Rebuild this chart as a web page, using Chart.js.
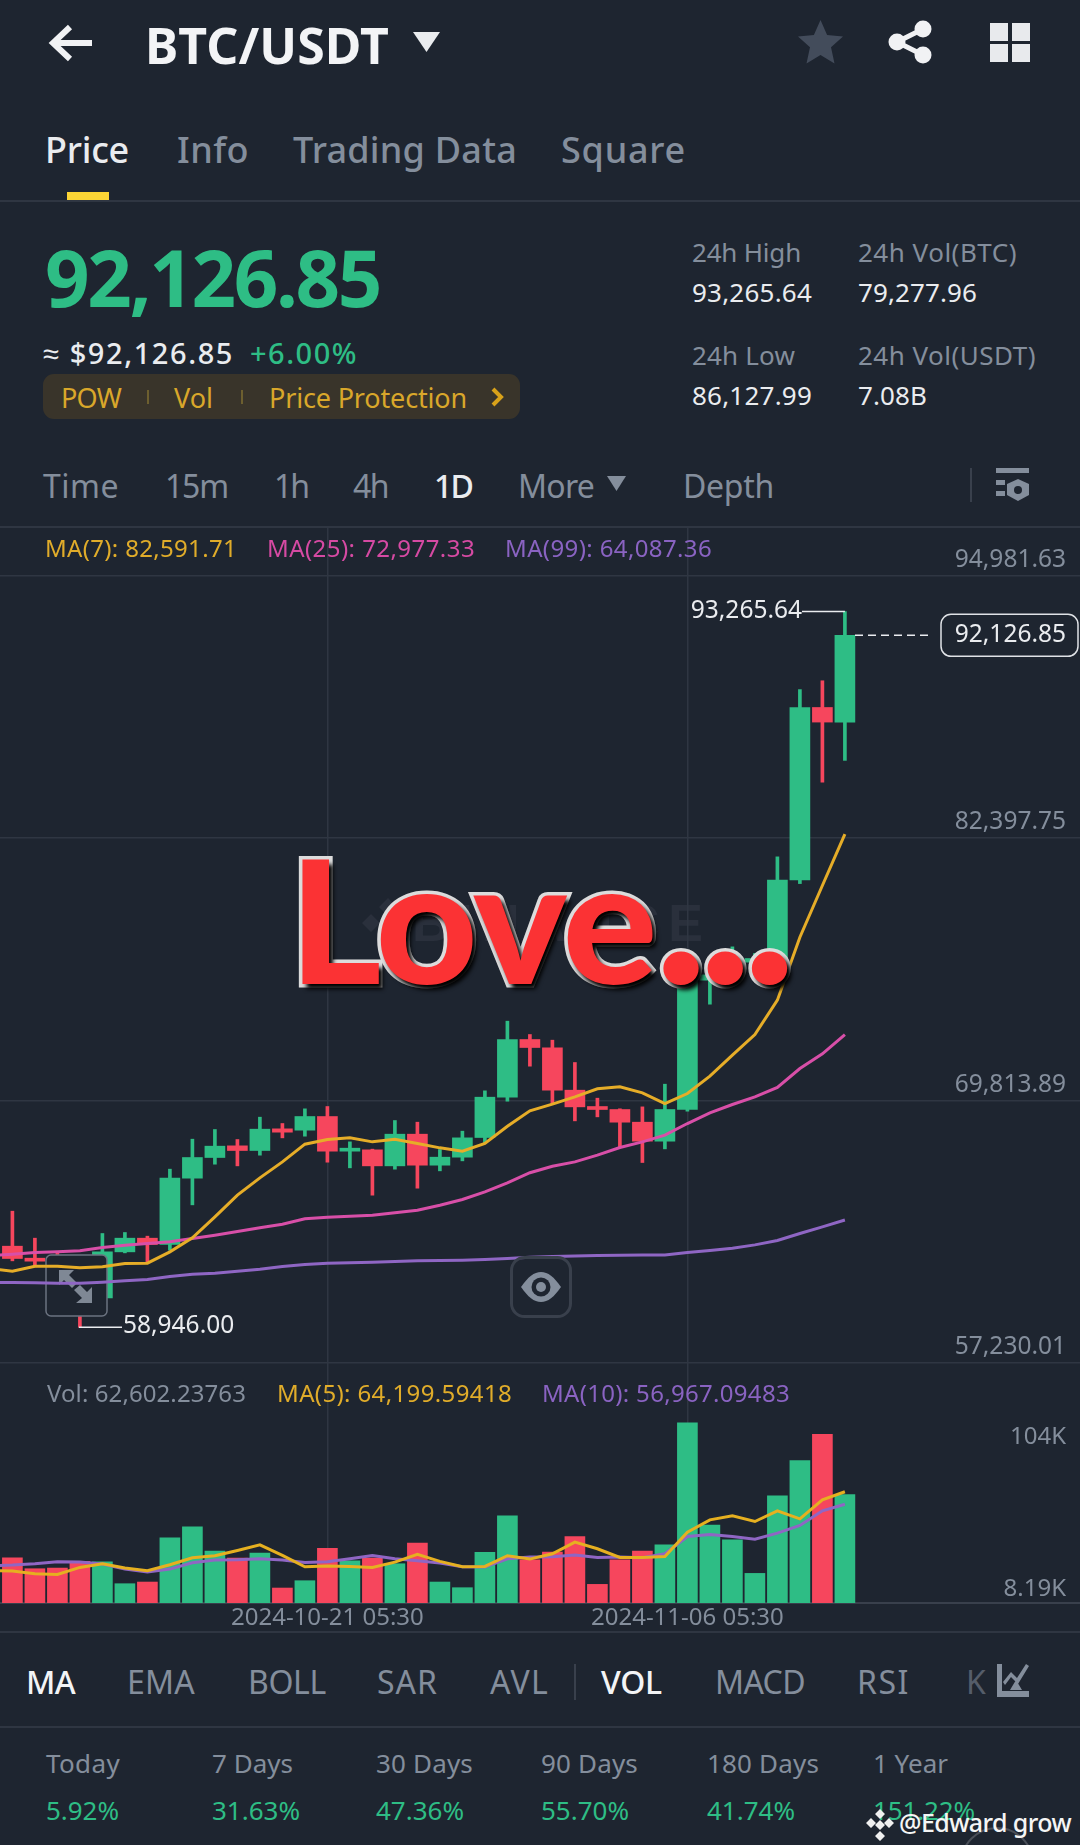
<!DOCTYPE html>
<html><head><meta charset="utf-8">
<script src="https://cdn.jsdelivr.net/npm/chart.js@4"></script>
<style>
html,body{margin:0;padding:0;background:#1e2530;}
#page{position:relative;width:1080px;height:1845px;overflow:hidden;background:#1e2530;font-family:"Noto Sans",sans-serif;}
canvas{position:absolute;left:0;z-index:2;}
.t{position:absolute;white-space:nowrap;line-height:1;transform:translateY(-50%);z-index:5;}
.ln{position:absolute;left:0;width:1080px;height:2px;background:#2f3642;z-index:1;}
svg{position:absolute;z-index:5;}
#love{position:absolute;left:289px;top:798px;font:900 172px "Lato",sans-serif;line-height:1;letter-spacing:-2px;color:#fb3234;-webkit-text-stroke:7px #dcdcdc;paint-order:stroke fill;text-shadow:4px 5px 4px #000;transform:scaleX(1.03);transform-origin:left center;white-space:nowrap;z-index:8;}
#love span{font-size:210px;letter-spacing:-7px;}
#wm{position:absolute;left:412px;top:897px;font:bold 52px "Liberation Sans",sans-serif;line-height:1;letter-spacing:9px;color:#2a303c;z-index:1;}
</style></head><body><div id="page">
<canvas id="pc" width="1080" height="837" style="top:528px"></canvas>
<canvas id="vc" width="1080" height="272" style="top:1362px"></canvas>
<div id="wm">BINANCE</div>
<svg style="left:362px;top:898px;z-index:1" width="52" height="50" viewBox="0 0 52 50" fill="#2a303c"><path d="M26 0l9 9-9 9-9-9zM9 16l9 9-9 9-9-9zM43 16l9 9-9 9-9-9zM26 32l9 9-9 9-9-9zM26 18l7 7-7 7-7-7z"/></svg>
<div id="love">Love<span>...</span></div>
<div class="ln" style="top:200px"></div><div class="ln" style="top:526px"></div><div class="ln" style="top:1631px"></div><div class="ln" style="top:1726px"></div>

<svg style="left:48px;top:22px" width="46" height="42" viewBox="0 0 46 42"><path d="M22 5L5 21l17 16M6 21h38" fill="none" stroke="#f1f2f4" stroke-width="6"/></svg>
<svg style="left:413px;top:32px" width="27" height="20" viewBox="0 0 27 20"><path d="M0 0h27L13.500 20z" fill="#eaecef"/></svg>
<svg style="left:798px;top:20px" width="45" height="44" viewBox="0 0 45 44"><path d="M22.500 0l6.600 15 15.900 1.600-12 10.700 3.500 16.200-14-8.400-14 8.400 3.500-16.200-12-10.700 15.900-1.600z" fill="#434c5b"/></svg>
<svg style="left:888px;top:20px" width="46" height="44" viewBox="0 0 46 44"><circle cx="9" cy="22" r="8.500" fill="#f1f2f4"/><circle cx="35" cy="9" r="8.500" fill="#f1f2f4"/><circle cx="35" cy="35" r="8.500" fill="#f1f2f4"/><path d="M9 22L35 9M9 22l26 13" stroke="#f1f2f4" stroke-width="5"/></svg>
<svg style="left:990px;top:23px" width="40" height="39" viewBox="0 0 40 39" fill="#e8eaed"><rect width="18" height="18"/><rect x="22" width="18" height="18"/><rect y="21" width="18" height="18"/><rect x="22" y="21" width="18" height="18"/></svg>
<div style="position:absolute;left:67px;top:192px;width:42px;height:8px;background:#fcd535;z-index:5"></div>
<div style="position:absolute;left:43px;top:374px;width:477px;height:45px;border-radius:11px;background:#39342a;z-index:4"></div>
<svg style="left:490px;top:387px" width="14" height="20" viewBox="0 0 14 20"><path d="M3 2l8 8-8 8" fill="none" stroke="#d9a21a" stroke-width="4"/></svg>
<div style="position:absolute;left:147px;top:390px;width:2px;height:14px;background:#6d5f2f;z-index:5"></div>
<div style="position:absolute;left:241px;top:390px;width:2px;height:14px;background:#6d5f2f;z-index:5"></div>
<svg style="left:607px;top:476px" width="19" height="15" viewBox="0 0 19 15"><path d="M0 0h19L9.500 15z" fill="#848e9c"/></svg>
<div style="position:absolute;left:970px;top:468px;width:2px;height:34px;background:#39404c;z-index:5"></div>
<svg style="left:996px;top:468px" width="34" height="34" viewBox="0 0 34 34" fill="#848e9c"><rect width="33" height="5"/><rect y="12" width="9" height="5"/><rect y="23" width="9" height="5"/><path d="M22 11l11 5v11l-11 6-11-6V16z"/><circle cx="22" cy="22" r="4" fill="#1e2530"/></svg>
<svg style="left:510px;top:1256px;z-index:5" width="62" height="62" viewBox="0 0 62 62"><rect x="1.500" y="1.500" width="59" height="59" rx="13" fill="none" stroke="#39404c" stroke-width="3"/><path d="M11 31C18 21 24 16 31 16s13 5 20 15c-7 10-13 15-20 15S18 41 11 31z" fill="#848e9c"/><circle cx="31" cy="31" r="9.500" fill="#1e2530"/><circle cx="31" cy="31" r="5" fill="#848e9c"/></svg>
<div style="position:absolute;left:574px;top:1664px;width:2px;height:36px;background:#39404c;z-index:5"></div>
<svg style="left:997px;top:1664px" width="32" height="33" viewBox="0 0 32 33" fill="#848e9c"><path d="M0 0h5v27h27v6H0z"/><path d="M6 18L14 8l6 6 9-14 3 2-11 18-7-7-6 8zM13 26l6-10 6 10z"/></svg>
<div style="position:absolute;left:960px;top:1827px;width:70px;height:70px;border-radius:50%;border:2px solid #4a4f58;z-index:4"></div>
<svg style="left:866px;top:1808px;z-index:9" width="28" height="34" viewBox="0 0 28 34" fill="#f0f0f0"><path d="M14 1l5 5-5 5-5-5zM5 10l5 5-5 5-5-5zM23 10l5 5-5 5-5-5zM14 12l5 5-5 5-5-5zM14 23l5 5-5 5-5-5z"/></svg>

<script>
const gridTickLabels = ["2024-10-21 05:30","2024-11-06 05:30"];
const dates = ["10-06","10-07","10-08","10-09","10-10","10-11","10-12","10-13","10-14","10-15","10-16","10-17","10-18","10-19","10-20","10-21","10-22","10-23","10-24","10-25","10-26","10-27","10-28","10-29","10-30","10-31","11-01","11-02","11-03","11-04","11-05","11-06","11-07","11-08","11-09","11-10","11-11","11-12","11-13"];
const opens  = [null,62832,62241,62113,61841,60354,62560,63216,62912,66093,67084,67644,67420,68459,68395,69050,67388,67452,66684,68203,66716,67100,68043,69977,72743,72343,70313,69513,69386,68778,67867,69386,75588,75827,76451,76627,80390,88665,87965];
const closes = [null,62241,62113,61841,60354,62560,63216,62912,66093,67084,67628,67420,68443,68299,69050,67388,67516,66684,68203,66716,67100,68027,69977,72743,72359,70313,69513,69386,68778,67867,69386,75588,75843,76451,76627,80390,88665,87965,92126.85];
const highs  = [null,64510,63216,62512,62001,63440,63488,63312,66525,67963,68427,67947,69018,68715,69418,69530,67835,67484,68858,68778,67468,68347,70281,73622,72983,72711,71640,69929,69420,69513,70600,75668,75987,77186,76867,81502,89523,89946,93265.64];
const lows   = [null,62129,61841,61681,58946,60354,62512,62081,62640,64814,66764,66684,67196,68027,68107,66860,66589,65278,66525,65613,66445,66924,67755,69785,71464,69673,68842,69034,67595,66844,67499,69306,74437,75748,76067,76547,80220,85083,86127.99];
const ma7  = [61761,61633,61873,61873,61793,61841,62001,62017,62560,63232,64239,65278,66109,66876,67723,67947,68027,67835,67963,67755,67547,67387,67755,68586,69322,69641,69993,70377,70473,70185,69673,70153,70984,71991,72982,74629,77650,80129,82591.71];
const ma25 = [62369,62448,62528,62560,62608,62768,62880,62960,63040,63200,63360,63535,63711,63887,64143,64223,64271,64319,64431,64559,64798,65070,65438,65869,66356,66668,66874,67196,67563,67835,68155,68714,69226,69625,69993,70441,71352,72054,72977.33];
const ma99 = [61090,61090,61074,61058,61058,61106,61170,61234,61377,61489,61537,61633,61729,61857,61953,62017,62033,62065,62097,62129,62145,62161,62193,62240,62305,62338,62367,62386,62400,62410,62415,62530,62626,62736,62894,63105,63441,63757,64087.36];
const volumes = [null,26112,19776,20160,24000,23808,11136,12096,37632,43968,29952,25920,28800,8640,12864,31488,24384,25920,22656,34560,12096,8832,29184,50304,24960,29376,38400,10752,24960,29952,33600,104064,44928,36480,17088,61824,82176,97344,62602.24];
const volUp = [null,0,0,0,0,1,1,0,1,1,1,0,1,0,1,0,1,0,1,0,1,1,1,1,0,0,0,0,0,0,1,1,1,1,1,1,1,0,1];
const volMa5 = [18816,18432,16896,16512,20544,22656,20160,18624,22080,26112,27264,30336,33600,27456,20928,21312,21120,20544,23616,28032,24000,20928,21120,27264,25344,28416,35136,31296,26304,26304,26880,40896,48000,50304,47040,53184,48576,59520,64199.59];
const volMa10 = [21504,21888,22656,23808,23616,22464,19584,17856,19584,23232,24768,24960,25536,24768,23424,23808,25536,27456,25536,24384,23040,20928,20736,25536,26496,26688,27648,26304,26496,26112,28416,38400,39552,38400,36864,40320,44736,53184,56967.09];
const priceTicks = [57230.01,69813.89,82397.75,94981.63];
const volTicks = [8190,104000];
const labels = [
 ["BTC/USDT",145,45,50,"#f3f4f6",700,244],
 ["Price",45,150,36,"#eaecef",500,84],["Info",177,150,36,"#848e9c",500,72],["Trading Data",293,150,36,"#848e9c",500,224],["Square",561,150,36,"#848e9c",500,125],
 ["92,126.85",45,277,78,"#2ebd85",700,335],
 ["≈ $92,126.85",43,352,29,"#eaecef",500,191],["+6.00%",250,352,29,"#2ebd85",500,108],
 ["POW",61,397,27,"#d9a72a",400,60],["Vol",174,397,27,"#d9a72a",400,39],["Price Protection",269,397,27,"#d9a72a",400,198],
 ["24h High",692,252,26,"#848e9c",400,109],["24h Vol(BTC)",858,252,26,"#848e9c",400,159],
 ["93,265.64",692,292,26,"#eaecef",400,120],["79,277.96",858,292,26,"#eaecef",400,119],
 ["24h Low",692,355,26,"#848e9c",400,103],["24h Vol(USDT)",858,355,26,"#848e9c",400,178],
 ["86,127.99",692,395,26,"#eaecef",400,120],["7.08B",858,395,26,"#eaecef",400,69],
 ["Time",43,486,32,"#848e9c",400,76],["15m",165,486,32,"#848e9c",400,63],["1h",274,486,32,"#848e9c",400,34],["4h",353,486,32,"#848e9c",400,35],["1D",434,486,32,"#eaecef",500,38],["More",518,486,32,"#848e9c",400,76],["Depth",683,486,32,"#848e9c",400,91],
 ["MA(7): 82,591.71",45,548,24,"#e0ac2a",400,192],["MA(25): 72,977.33",267,548,24,"#d64aa3",400,208],["MA(99): 64,087.36",505,548,24,"#8a63c2",400,207],
 ["Vol: 62,602.23763",47,1393,24,"#848e9c",400,199],["MA(5): 64,199.59418",277,1393,24,"#e0ac2a",400,235],["MA(10): 56,967.09483",542,1393,24,"#8a63c2",400,248],
 ["MA",26,1682,32,"#f3f4f6",500,49],["EMA",127,1682,32,"#848e9c",400,68],["BOLL",248,1682,32,"#848e9c",400,78],["SAR",377,1682,32,"#848e9c",400,61],["AVL",490,1682,32,"#848e9c",400,59],["VOL",601,1682,32,"#f3f4f6",500,61],["MACD",715,1682,32,"#848e9c",400,90],["RSI",857,1682,32,"#848e9c",400,53],["K",966,1682,32,"#555d6a",400,18],
 ["Today",46,1763,26,"#848e9c",400,74],["7 Days",212,1763,26,"#848e9c",400,81],["30 Days",376,1763,26,"#848e9c",400,97],["90 Days",541,1763,26,"#848e9c",400,97],["180 Days",707,1763,26,"#848e9c",400,112],["1 Year",873,1763,26,"#848e9c",400,75],
 ["5.92%",46,1810,26,"#2ebd85",400,73],["31.63%",212,1810,26,"#2ebd85",400,88],["47.36%",376,1810,26,"#2ebd85",400,88],["55.70%",541,1810,26,"#2ebd85",400,88],["41.74%",707,1810,26,"#2ebd85",400,88],["151.22%",873,1810,26,"#2ebd85",400,102],
 ["@Edward grow",899,1822,25,"#f5f5f5",500,172]
];
const page = document.getElementById('page');
for (const [s,x,y,size,color,weight,w] of labels) {
  const e = document.createElement('div');
  e.className = 't'; e.textContent = s;
  e.style.cssText = `left:${x}px;top:${y}px;font-size:${size}px;color:${color};font-weight:${weight};`;
  page.appendChild(e);
  const m = e.getBoundingClientRect().width;
  e.style.letterSpacing = ((w - m) / s.length).toFixed(2) + 'px';
  if (s === "@Edward grow") e.style.zIndex = 9;
}

const UP = '#2ebd85', DOWN = '#f6465d', GRID = '#2f3642', AXIS = '#848e9c';
const idx = dates.map((_, i) => i);
const candleColor = i => closes[i] >= opens[i] ? UP : DOWN;
const xMin = 0.4489, xMax = 48.449;
const noPad = s => { s.paddingLeft = 0; s.paddingRight = 0; s.paddingTop = 0; s.paddingBottom = 0; };
const xBase = () => ({
  type:'linear', min:xMin, max:xMax, offset:false,
  afterBuildTicks(s){ s.ticks = [{value:15},{value:31}]; },
  grid:{color:'#2f3642',lineWidth:1.5,drawTicks:false,offset:false},
  border:{display:false}
});

const chartBox = {
  id:'chartBox',
  beforeDatasetDraw(chart,args){
    if (args.index !== 2) return;
    const c = chart.ctx; c.save();
    c.beginPath(); c.roundRect(46,1255-528,61,61,5);
    c.fillStyle='#1e2530'; c.fill(); c.strokeStyle='#6b7380'; c.lineWidth=1.5; c.stroke();
    c.fillStyle='#7f8895';
    c.beginPath(); c.moveTo(59,1270-528); c.lineTo(74,1270-528); c.lineTo(69,1275-528); c.lineTo(77,1283-528); c.lineTo(72,1288-528); c.lineTo(64,1280-528); c.lineTo(59,1285-528); c.closePath(); c.fill();
    c.beginPath(); c.moveTo(92,1303-528); c.lineTo(76,1303-528); c.lineTo(82,1298-528); c.lineTo(74,1290-528); c.lineTo(80,1285-528); c.lineTo(87,1292-528); c.lineTo(92,1287-528); c.closePath(); c.fill();
    c.restore();
  },
  afterDatasetsDraw(chart){
    const c = chart.ctx, X = chart.scales.x, Y = chart.scales.y;
    const n = dates.length-1;
    const hy = Y.getPixelForValue(highs[n]), hx = X.getPixelForValue(n);
    const ly = Y.getPixelForValue(lows[4]), lx = X.getPixelForValue(4);
    const cy = Y.getPixelForValue(closes[n]);
    c.save();
    c.strokeStyle='#eaecef'; c.lineWidth=1.5;
    c.beginPath(); c.moveTo(802,hy); c.lineTo(hx,hy); c.stroke();
    c.beginPath(); c.moveTo(lx-1,ly); c.lineTo(122,ly); c.stroke();
    c.fillStyle='#eaecef'; c.font='24.500px "Noto Sans"'; c.textBaseline='middle';
    c.textAlign='right'; c.fillText(highs[n].toLocaleString('en-US',{minimumFractionDigits:2}),802,hy-1);
    c.textAlign='left'; c.fillText(lows[4].toLocaleString('en-US',{minimumFractionDigits:2}),123,ly-1);
    c.setLineDash([8,5]);
    c.beginPath(); c.moveTo(855,cy); c.lineTo(930,cy); c.stroke();
    c.setLineDash([]);
    c.beginPath(); c.roundRect(941,cy-21,137,42,10);
    c.fillStyle='#1e2530'; c.fill(); c.strokeStyle='#dfe2e6'; c.stroke();
    c.fillStyle='#eaecef'; c.textAlign='right';
    c.fillText(closes[n].toLocaleString('en-US',{minimumFractionDigits:2}),1066,cy);
    c.restore();
  }
};

Chart.defaults.font.family = '"Noto Sans"';
const priceChart = new Chart(document.getElementById('pc'), {
  type:'bar',
  data:{datasets:[
    {type:'line',label:'MA7',order:1,data:idx.map(i=>({x:i,y:ma7[i]})),borderColor:'#e6ad28',borderWidth:3,pointRadius:0,tension:0},
    {type:'line',label:'MA25',order:2,data:idx.map(i=>({x:i,y:ma25[i]})),borderColor:'#d84fa8',borderWidth:3,pointRadius:0,tension:0},
    {type:'line',label:'MA99',order:3,data:idx.map(i=>({x:i,y:ma99[i]})),borderColor:'#8f66c4',borderWidth:3,pointRadius:0,tension:0},
    {label:'body',order:4,data:idx.map(i=>({x:i,y:opens[i]===null?null:[opens[i],closes[i]]})),backgroundColor:idx.map(candleColor),barThickness:20,grouped:false,minBarLength:3},
    {label:'wick',order:5,data:idx.map(i=>({x:i,y:lows[i]===null?null:[lows[i],highs[i]]})),backgroundColor:idx.map(candleColor),barThickness:3,grouped:false}
  ]},
  options:{responsive:false,animation:false,devicePixelRatio:1,
    layout:{padding:{left:0,right:0,top:0,bottom:2}},
    plugins:{legend:{display:false},tooltip:{enabled:false}},
    scales:{
      x:{...xBase(),ticks:{display:false},afterFit(s){s.height=0;noPad(s);}},
      y:{position:'right',min:57230.01,max:97272,
        afterBuildTicks(s){s.ticks=priceTicks.map(v=>({value:v}));},
        grid:{color:GRID,lineWidth:1.5,drawTicks:false},border:{display:false},
        afterFit(s){s.width=0;noPad(s);},
        ticks:{mirror:true,padding:-14,labelOffset:-16,color:AXIS,font:{size:24.5},
          callback:v=>v.toLocaleString('en-US',{minimumFractionDigits:2,maximumFractionDigits:2})}}
    }},
  plugins:[chartBox]
});
const volChart = new Chart(document.getElementById('vc'), {
  type:'bar',
  data:{datasets:[
    {type:'line',label:'MA5',order:1,data:idx.map(i=>({x:i,y:volMa5[i]})),borderColor:'#e6b020',borderWidth:3,pointRadius:0,tension:0},
    {type:'line',label:'MA10',order:2,data:idx.map(i=>({x:i,y:volMa10[i]})),borderColor:'#8f66c4',borderWidth:3,pointRadius:0,tension:0},
    {label:'vol',order:3,data:idx.map(i=>({x:i,y:volumes[i]})),backgroundColor:idx.map(i=>volUp[i]?UP:DOWN),barThickness:20,grouped:false}
  ]},
  options:{responsive:false,animation:false,devicePixelRatio:1,
    layout:{padding:0},
    plugins:{legend:{display:false},tooltip:{enabled:false}},
    scales:{
      x:{...xBase(),border:{display:true,color:'#39404c',width:2},
        afterFit(s){s.height=31;noPad(s);},
        ticks:{display:true,color:AXIS,font:{size:24},padding:1,maxRotation:0,autoSkip:false,
          callback:v=>gridTickLabels[v===15?0:1]}},
      y:{position:'right',min:0,max:139104,
        afterBuildTicks(s){s.ticks=volTicks.map(v=>({value:v}));},
        grid:{display:false},border:{display:false},
        afterFit(s){s.width=0;noPad(s);},
        ticks:{mirror:true,padding:-14,labelOffset:0,color:AXIS,font:{size:24},
          callback:v=>v>=100000?['','104K']:'8.19K'}}
    }}
});
</script>
</div></body></html>
